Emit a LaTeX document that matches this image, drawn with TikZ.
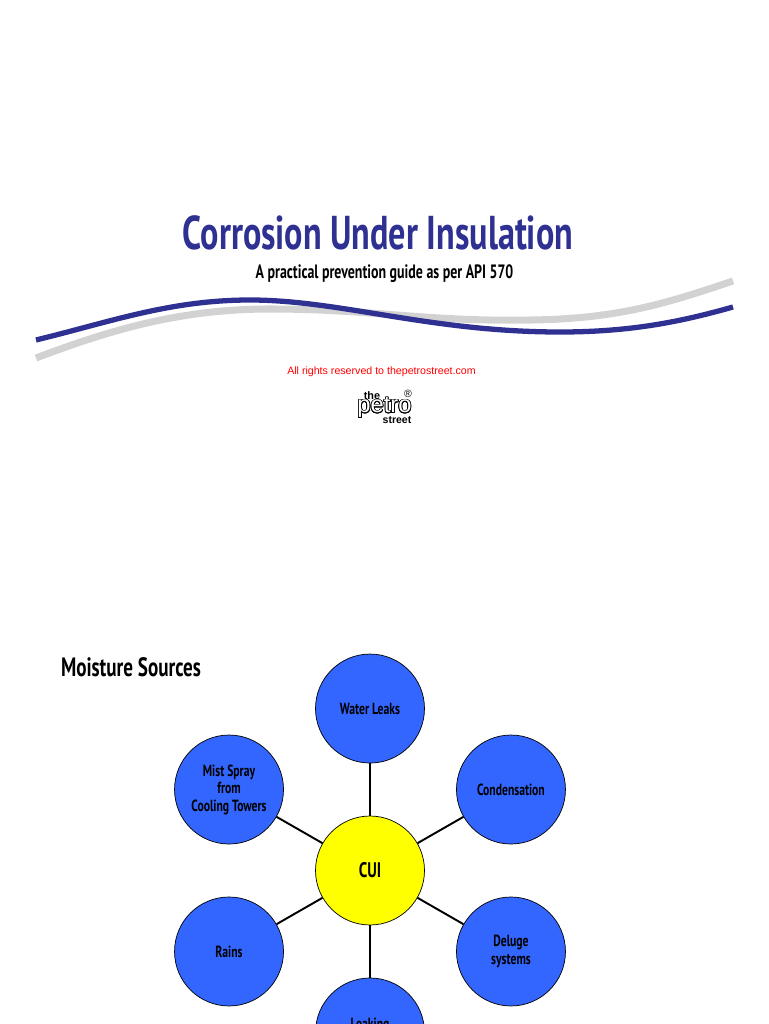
\documentclass[tikz,border=0pt]{standalone}
\usepackage{fontspec}
\usepackage[copies]{contour}
\setmainfont{Liberation Sans}
\newfontfamily\condfont[FakeStretch=0.72]{PT Sans}
\definecolor{petroblue}{HTML}{2E3192}
\definecolor{swooshgray}{HTML}{D2D2D2}
\definecolor{sourceblue}{HTML}{3366FF}
\definecolor{cuiyellow}{HTML}{FFFF00}
\definecolor{rightsred}{HTML}{FF0000}
\begin{document}
\begin{tikzpicture}[x=0.02cm, y=-0.02cm, font=\condfont\bfseries]
  % Define block styles
  \tikzstyle{source} = [circle, draw, fill=sourceblue, minimum size=2.18cm, inner sep=0pt, text centered, font=\condfont\bfseries\fontsize{9.2}{10}\selectfont, align=center]
  \tikzstyle{centre} = [source, fill=cuiyellow, font=\condfont\bfseries\fontsize{12}{14}\selectfont]
  \tikzstyle{line} = [draw, line width=1.1pt]
  \useasboundingbox (0,0) rectangle (768,1024);

  % Title and swooshes
  \node [text=petroblue, font=\condfont\bfseries\fontsize{27}{30}\selectfont] (title) at (378,233) {Corrosion Under Insulation};
  \node [font=\condfont\bfseries\fontsize{11}{13}\selectfont] (subtitle) at (384.5,274) {A practical prevention guide as per API 570};
  \draw [swooshgray, line width=4pt] (36,358) .. controls (110,330) and (180,309) .. (270,309) .. controls (370,309) and (430,322) .. (530,320) .. controls (620,319) and (670,302) .. (733,281);
  \draw [petroblue, line width=3pt] (36,340) .. controls (110,322) and (170,300) .. (250,300) .. controls (340,300) and (430,332) .. (560,332) .. controls (630,332) and (680,322) .. (733,307);
  \node [text=rightsred, font=\fontsize{6.05}{8}\selectfont] (rights) at (381.5,372) {All rights reserved to thepetrostreet.com};

  % Logo
  \node [font=\bfseries\fontsize{6.2}{8}\selectfont] (logothe) at (372,395.5) {the};
  \node [font=\fontsize{13.5}{15}\selectfont] (logopetro) at (384.5,408) {\contourlength{0.45pt}\contour{black}{\textcolor{white}{petro}}};
  \node [font=\bfseries\fontsize{6}{8}\selectfont] (logostreet) at (397,420.5) {street};
  \node [font=\fontsize{6}{8}\selectfont] (logomark) at (408,394) {\textregistered};

  % Place blocks
  \node [font=\condfont\bfseries\fontsize{15.1}{17}\selectfont] (heading) at (131,667) {Moisture Sources};
  \node [centre] (cui) at (370,870.5) {CUI};
  \node [source, above of=cui, node distance=3.24cm] (leaks) {Water Leaks};
  \node [source, above of=cui, node distance=1.62cm, xshift=2.82cm] (condensation) {Condensation};
  \node [source, below of=cui, node distance=1.62cm, xshift=2.82cm] (deluge) {Deluge\\systems};
  \node [source, below of=cui, node distance=3.24cm] (leaking) {Leaking\\\ };
  \node [source, below of=cui, node distance=1.62cm, xshift=-2.82cm] (rains) {Rains};
  \node [source, above of=cui, node distance=1.62cm, xshift=-2.82cm] (mist) {Mist Spray\\from\\Cooling Towers};

  % Draw lines
  \path [line] (cui) -- (leaks);
  \path [line] (cui) -- (condensation);
  \path [line] (cui) -- (deluge);
  \path [line] (cui) -- (leaking);
  \path [line] (cui) -- (rains);
  \path [line] (cui) -- (mist);
\end{tikzpicture}
\end{document}
